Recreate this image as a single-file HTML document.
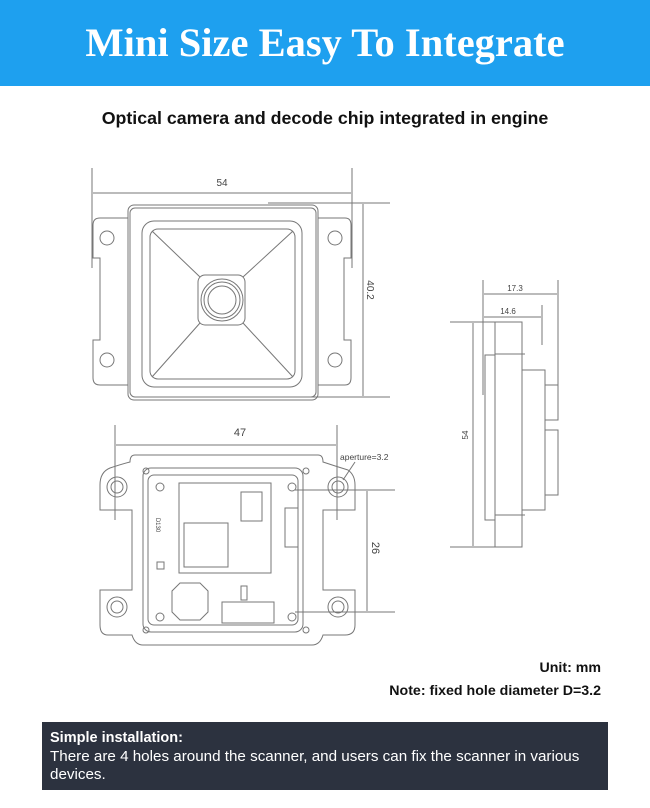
<!DOCTYPE html>
<html><head><meta charset="utf-8"><style>
html,body{margin:0;padding:0;background:#fff;width:650px;height:808px;overflow:hidden}
svg{display:block}
</style></head><body>
<svg width="650" height="808" viewBox="0 0 650 808" xmlns="http://www.w3.org/2000/svg" font-family="Liberation Sans, sans-serif">
<rect x="0" y="0" width="650" height="86" fill="#1ea0ef"/>
<text x="325" y="56" text-anchor="middle" fill="#fff" font-family="Liberation Serif, serif" font-weight="bold" font-size="40.5">Mini Size Easy To Integrate</text>
<text x="325" y="124" text-anchor="middle" fill="#111" font-weight="bold" font-size="17.8">Optical camera and decode chip integrated in engine</text>

<g fill="none" stroke="#777" stroke-width="1">
<!-- TOP VIEW -->
<line x1="92" y1="168" x2="92" y2="268"/><line x1="352" y1="168" x2="352" y2="268"/>
<line x1="93" y1="193" x2="351" y2="193"/>
<line x1="268" y1="203" x2="390" y2="203"/><line x1="268" y1="397" x2="390" y2="397"/>
<line x1="363" y1="204" x2="363" y2="396"/>
<path d="M128 218 H100 Q93 218 93 225 V258 H100 V340 H93 V378 Q93 385 100 385 H128"/>
<path d="M318 218 H345 Q351 218 351 225 V258 H344 V340 H351 V378 Q351 385 345 385 H318"/>
<rect x="128" y="205" width="190" height="195" rx="6"/>
<rect x="130" y="208" width="186" height="189" rx="5"/>
<rect x="142" y="221" width="160" height="166" rx="12"/>
<rect x="150" y="229" width="145" height="150" rx="8"/>
<rect x="198" y="275" width="47" height="50" rx="7"/>
<circle cx="222" cy="300" r="21"/><circle cx="222" cy="300" r="18"/><circle cx="222" cy="300" r="14"/>
<line x1="152" y1="231" x2="200" y2="277"/><line x1="293" y1="231" x2="243" y2="277"/>
<line x1="152" y1="377" x2="200" y2="323"/><line x1="293" y1="377" x2="243" y2="323"/>
<circle cx="107" cy="238" r="7"/><circle cx="107" cy="360" r="7"/>
<circle cx="335" cy="238" r="7"/><circle cx="335" cy="360" r="7"/>

<!-- BOTTOM VIEW -->
<line x1="115" y1="425" x2="115" y2="520"/><line x1="337" y1="425" x2="337" y2="520"/>
<line x1="116" y1="445" x2="336" y2="445"/>
<line x1="295" y1="490" x2="395" y2="490"/><line x1="295" y1="612" x2="395" y2="612"/>
<line x1="367" y1="491" x2="367" y2="611"/>
<path d="M135 455 H318 Q323 455 323 462 Q335 466 348 470 Q355 475 355 485 V510 H323 V590 H355 V625 Q355 635 345 635 H323 Q320 645 312 645 H143 Q135 645 132 635 H108 Q100 635 100 625 V590 H132 V510 H100 V485 Q100 472 110 468 Q122 464 130 462 Q130 455 135 455Z"/>
<rect x="143" y="468" width="160" height="164" rx="8"/>
<rect x="148" y="475" width="150" height="150" rx="6"/>
<circle cx="117" cy="487" r="10"/><circle cx="117" cy="487" r="6"/>
<circle cx="117" cy="607" r="10"/><circle cx="117" cy="607" r="6"/>
<circle cx="338" cy="487" r="10"/><circle cx="338" cy="487" r="6"/>
<circle cx="338" cy="607" r="10"/><circle cx="338" cy="607" r="6"/>
<circle cx="146" cy="471" r="3"/><circle cx="306" cy="471" r="3"/><circle cx="146" cy="630" r="3"/><circle cx="306" cy="630" r="3"/>
<circle cx="160" cy="487" r="4"/><circle cx="292" cy="487" r="4"/><circle cx="160" cy="617" r="4"/><circle cx="292" cy="617" r="4"/>
<rect x="179" y="483" width="92" height="90"/>
<rect x="241" y="492" width="21" height="29"/>
<rect x="184" y="523" width="44" height="44"/>
<rect x="285" y="508" width="13" height="39"/>
<rect x="157" y="562" width="7" height="7"/>
<path d="M180 583 H200 L208 591 V612 L200 620 H180 L172 612 V591Z"/>
<rect x="222" y="602" width="52" height="21"/>
<rect x="241" y="586" width="6" height="14"/>
<line x1="355" y1="462" x2="343" y2="480"/>

<!-- SIDE VIEW -->
<line x1="483" y1="280" x2="483" y2="395"/><line x1="558" y1="280" x2="558" y2="398"/>
<line x1="542" y1="305" x2="542" y2="345"/>
<line x1="484" y1="294" x2="557" y2="294"/><line x1="484" y1="317" x2="541" y2="317"/>
<line x1="450" y1="322" x2="522" y2="322"/><line x1="450" y1="547" x2="522" y2="547"/>
<line x1="473" y1="323" x2="473" y2="546"/>
<rect x="485" y="355" width="10" height="165"/>
<rect x="495" y="322" width="27" height="225"/>
<line x1="495" y1="354" x2="525" y2="354"/><line x1="495" y1="515" x2="525" y2="515"/>
<rect x="522" y="370" width="23" height="140"/>
<rect x="545" y="385" width="13" height="35"/>
<rect x="545" y="430" width="13" height="65"/>
</g>
<g fill="#444" font-size="10">
<text x="222" y="186" text-anchor="middle">54</text>
<text transform="translate(367,290) rotate(90)" text-anchor="middle">40.2</text>
<text x="240" y="436" text-anchor="middle" font-size="11">47</text>
<text x="340" y="460" font-size="8.5">aperture=3.2</text>
<text transform="translate(372,548) rotate(90)" text-anchor="middle" font-size="11">26</text>
<text transform="translate(156,525) rotate(90)" text-anchor="middle" font-size="6">D130</text>
<text x="515" y="291" text-anchor="middle" font-size="8">17.3</text>
<text x="508" y="314" text-anchor="middle" font-size="8">14.6</text>
<text transform="translate(468,435) rotate(-90)" text-anchor="middle" font-size="8">54</text>
</g>
<text x="601" y="672" text-anchor="end" font-weight="bold" font-size="14.2" fill="#111">Unit: mm</text>
<text x="601" y="695" text-anchor="end" font-weight="bold" font-size="14.2" fill="#111">Note: fixed hole diameter D=3.2</text>
<rect x="42" y="722" width="566" height="68" fill="#2c323f"/>
<text x="50" y="742" fill="#fff" font-weight="bold" font-size="14.5">Simple installation:</text>
<text x="50" y="761" fill="#fff" font-size="15.2">There are 4 holes around the scanner, and users can fix the scanner in various</text>
<text x="50" y="779" fill="#fff" font-size="15.2">devices.</text>
</svg>
</body></html>
